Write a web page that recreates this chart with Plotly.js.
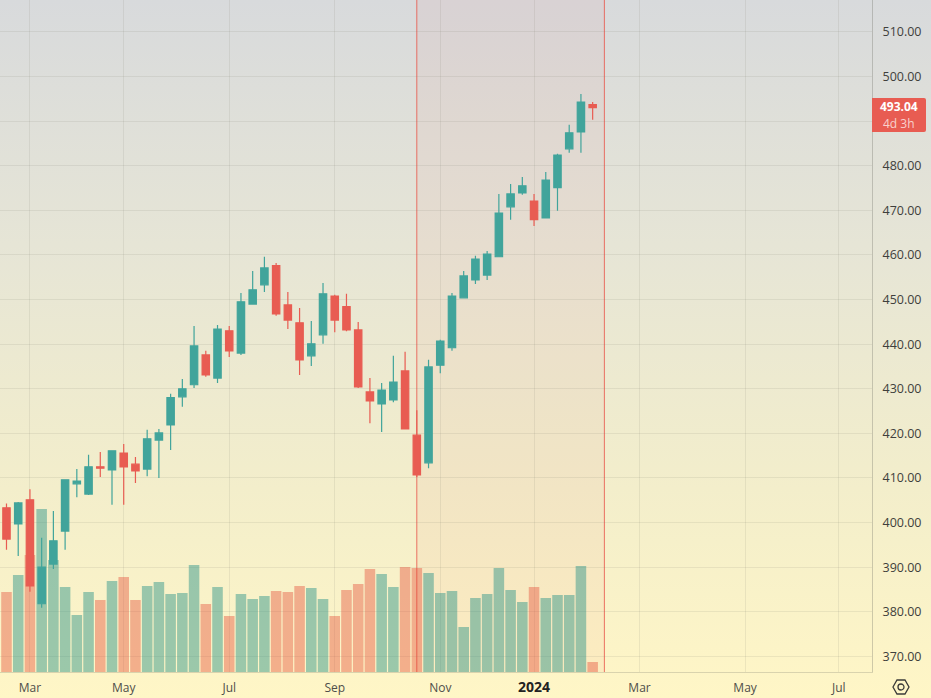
<!DOCTYPE html>
<html><head><meta charset="utf-8">
<script src="https://cdn.plot.ly/plotly-3.0.1.min.js"></script>
<style>
html,body{margin:0;padding:0;width:931px;height:698px;overflow:hidden;background:linear-gradient(180deg,#d8dadc 0%,#e6e5d6 35%,#f3eecb 70%,#fff6c6 100%);}
#chart{width:931px;height:698px;}
</style></head><body><div id="chart"></div>
<script>
const dates=["2023-02-20","2023-02-27","2023-03-06","2023-03-13","2023-03-20","2023-03-27","2023-04-03","2023-04-10","2023-04-17","2023-04-24","2023-05-01","2023-05-08","2023-05-15","2023-05-22","2023-05-29","2023-06-05","2023-06-12","2023-06-19","2023-06-26","2023-07-03","2023-07-10","2023-07-17","2023-07-24","2023-07-31","2023-08-07","2023-08-14","2023-08-21","2023-08-28","2023-09-04","2023-09-11","2023-09-18","2023-09-25","2023-10-02","2023-10-09","2023-10-16","2023-10-23","2023-10-30","2023-11-06","2023-11-13","2023-11-20","2023-11-27","2023-12-04","2023-12-11","2023-12-18","2023-12-25","2024-01-01","2024-01-08","2024-01-15","2024-01-22","2024-01-29","2024-02-05"];
const open_=[403.3,399.7,405.1,381.8,390.7,398.1,408.7,406.4,412.5,411.8,415.6,413.1,412.0,418.5,421.9,428.2,430.9,437.6,432.4,443.0,438.0,449.0,453.3,457.6,448.8,444.8,437.4,442.1,450.8,448.4,443.2,429.3,426.6,427.5,434.0,419.6,413.4,435.3,439.2,450.4,454.4,455.5,459.6,470.8,473.9,472.1,468.3,475.1,483.8,487.6,493.7];
const close_=[396.3,404.4,385.8,390.0,395.9,409.6,409.3,412.5,412.2,416.1,412.5,411.6,418.8,420.1,428.0,430.0,439.6,433.1,443.4,438.5,449.5,452.2,457.1,446.8,445.4,436.5,440.1,451.3,445.4,443.2,430.4,427.3,429.7,431.5,421.0,410.7,434.9,440.7,450.8,455.3,459.1,460.2,469.4,473.7,475.5,467.9,476.8,482.4,487.4,494.3,493.04];
const high_=[404.3,404.6,407.5,396.6,402.6,409.7,412.0,415.2,415.8,416.1,417.6,414.7,420.8,421.0,428.9,432.2,444.1,438.5,444.3,444.1,451.5,456.4,459.6,458.2,451.7,448.1,445.2,453.7,451.1,451.3,445.0,432.4,431.3,437.4,438.3,425.2,436.5,441.0,451.5,456.4,459.8,460.9,473.7,475.9,477.5,473.7,478.6,482.7,489.2,496.1,494.3];
const low_=[393.9,392.5,384.5,380.9,389.6,393.9,405.7,406.2,410.2,404.0,404.0,408.9,410.4,410.0,416.3,426.0,430.2,432.7,431.3,437.1,437.6,449.0,451.7,446.4,443.4,433.1,435.1,440.1,442.7,442.9,430.2,422.3,420.3,427.0,421.0,410.2,412.2,433.5,438.5,450.4,453.5,454.4,459.6,467.9,473.5,466.5,468.3,469.9,482.9,482.9,490.3];
const volume=[80,97,117,163,112,85,57,80,72,91,95,72,86,90,78,79,107,68,85,56,78,73,76,81,80,86,84,73,56,82,88,103,98,85,105,104,99,79,81,45,74,78,104,82,70,85,74,77,77,106,10];
const volumeUp=["d","u","d","u","u","u","u","u","d","u","d","d","u","u","u","u","u","d","u","d","u","u","u","d","d","d","u","u","d","d","d","d","u","u","d","d","u","u","u","u","u","u","u","u","u","d","u","u","u","u","d"];
const tickDates=["2023-03-06","2023-05-01","2023-07-03","2023-09-04","2023-11-06","2024-01-01","2024-03-04","2024-05-06","2024-07-01"];
const tickNames=["Mar","May","Jul","Sep","Nov","<span style='font-size:14px;color:#222'><b>2024</b></span>","Mar","May","Jul"];
const priceTicks=[370,380,390,400,410,420,430,440,450,460,470,480,490,500,510];
const priceTickText=["370.00","380.00","390.00","400.00","410.00","420.00","430.00","440.00","450.00","460.00","470.00","480.00","","500.00","510.00"];
const upColor="#41a49b",downColor="#e85c52";
const font="'Open Sans',sans-serif";
const grid="rgba(120,120,110,0.13)";
const traces=[
{type:"bar",x:dates,y:volume,yaxis:"y",xaxis:"x",hoverinfo:"skip",
 marker:{color:volumeUp.map(v=>v==="u"?"rgba(40,145,135,0.46)":"rgba(228,70,50,0.40)"),line:{width:0}}},
{type:"candlestick",x:dates,open:open_,close:close_,high:high_,low:low_,yaxis:"y2",xaxis:"x",whiskerwidth:0,
 increasing:{line:{color:upColor,width:1.2},fillcolor:upColor},
 decreasing:{line:{color:downColor,width:1.2},fillcolor:downColor}}
];
const H=672,W=872.5;
const selLine={width:1,color:"rgba(232,90,80,0.85)"};
const layout={
 width:931,height:698,showlegend:false,paper_bgcolor:"rgba(0,0,0,0)",plot_bgcolor:"rgba(0,0,0,0)",
 margin:{l:0,r:58.5,t:0,b:26,pad:0},bargap:0.1,boxgap:0.1,
 xaxis:{type:"date",range:["2023-02-16 03:00","2024-07-20 19:00"],tickmode:"array",tickvals:tickDates,ticktext:tickNames,
  showgrid:true,gridcolor:grid,gridwidth:1,zeroline:false,showline:true,linecolor:"rgba(110,110,100,0.25)",linewidth:1,
  ticks:"",tickangle:0,tickfont:{family:font,size:12,color:"#4e4e4a"},rangeslider:{visible:false},automargin:false,ticklabelstandoff:5},
 yaxis:{range:[0,672],visible:false,fixedrange:true,showgrid:false,zeroline:false},
 yaxis2:{overlaying:"y",side:"right",range:[366.5,517.17],tickmode:"array",tickvals:priceTicks,ticktext:priceTickText,
  showgrid:true,gridcolor:grid,gridwidth:1,zeroline:false,showline:true,linecolor:"rgba(110,110,100,0.32)",linewidth:1,
  ticks:"",tickfont:{family:font,size:12.5,color:"#3f3f3c"},automargin:false,ticklabelstandoff:7},
 shapes:[
  {type:"rect",xref:"x",yref:"paper",layer:"below",x0:"2023-10-23",x1:"2024-02-12",y0:0,y1:1,
   fillcolor:"rgba(235,80,70,0.05)",line:{width:0}},
  {type:"line",xref:"x",yref:"paper",layer:"below",x0:"2023-10-23",x1:"2023-10-23",y0:0,y1:1,line:selLine},
  {type:"line",xref:"x",yref:"paper",layer:"below",x0:"2024-02-12",x1:"2024-02-12",y0:0,y1:1,line:selLine},
  {type:"path",xref:"paper",yref:"paper",xsizemode:"pixel",ysizemode:"pixel",xanchor:872.5/W,yanchor:1-115/H,
   path:"M 0 17 L 52 17 Q 54 17 54 15 L 54 -15 Q 54 -17 52 -17 L 0 -17 Z",line:{width:0},fillcolor:"#e85c52"},
  {type:"path",xref:"paper",yref:"paper",xsizemode:"pixel",ysizemode:"pixel",xanchor:901.5/W,yanchor:1-687/H,
   path:"M -8 0 L -4 7 L 4 7 L 8 0 L 4 -7 L -4 -7 Z",line:{color:"#3b3b38",width:1.3},fillcolor:"rgba(0,0,0,0)"},
  {type:"circle",xref:"paper",yref:"paper",xsizemode:"pixel",ysizemode:"pixel",xanchor:901.5/W,yanchor:1-687/H,
   x0:-3,x1:3,y0:-3,y1:3,line:{color:"#3b3b38",width:1.3},fillcolor:"rgba(0,0,0,0)"}
 ],
 annotations:[
  {xref:"paper",yref:"paper",x:(899.5)/W,y:1-106.5/H,xanchor:"center",yanchor:"middle",showarrow:false,
   text:"<b>493.04</b>",font:{family:font,size:12,color:"#ffffff"}},
  {xref:"paper",yref:"paper",x:(899.5)/W,y:1-123/H,xanchor:"center",yanchor:"middle",showarrow:false,
   text:"4d 3h",font:{family:font,size:12,color:"rgba(255,255,255,0.72)"}}
 ]
};
Plotly.newPlot("chart",traces,layout,{staticPlot:true,displayModeBar:false});
</script></body></html>
